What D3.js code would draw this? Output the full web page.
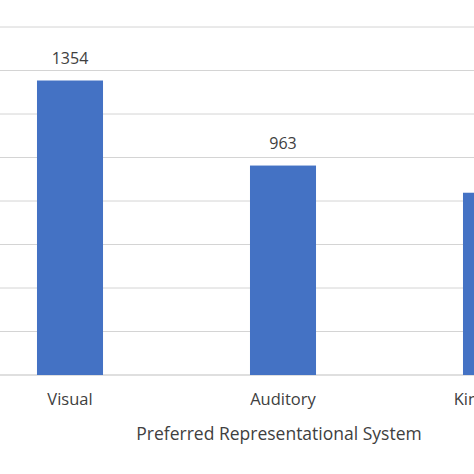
<!DOCTYPE html>
<html>
<head>
<meta charset="utf-8">
<script src="https://cdn.jsdelivr.net/npm/d3@7"></script>
<style>
  body { margin: 0; background: #fff; }
  text { font-family: "Open Sans", "Noto Sans", sans-serif; fill: #404040; }
</style>
</head>
<body>
<svg id="chart"></svg>
<script>
const width = 474, height = 474

const categories = ["Visual", "Auditory", "Kinesthetic"]
const counts = [1354, 963, 838]
const yTicks = [0, 200, 400, 600, 800, 1000, 1200, 1400, 1600]

const svg = d3.select("svg#chart")
    .attr("width", width)
    .attr("height", height)

const xScale = d3.scaleBand()
    .domain(categories)
    .range([-36.5, 602.5])
    .paddingInner(0.69)
    .paddingOuter(0.345)

const yScale = d3.scaleLinear()
    .domain([0, 1600])
    .range([375, 27])

// grid lines
svg.append("g")
    .selectAll("line")
    .data(yTicks)
    .enter()
    .append("line")
    .attr("x1", 0)
    .attr("x2", width)
    .attr("y1", d => yScale(d))
    .attr("y2", d => yScale(d))
    .attr("stroke", d => d === 0 ? "#bfbfbf" : "#d4d4d4")
    .attr("stroke-width", 1)

// bars
svg.append("g")
    .selectAll("rect")
    .data(categories)
    .enter()
    .append("rect")
    .attr("x", d => xScale(d))
    .attr("width", xScale.bandwidth())
    .attr("y", (d, i) => yScale(counts[i]))
    .attr("height", (d, i) => yScale(0) - yScale(counts[i]))
    .attr("fill", "#4472c4")

// value labels
svg.append("g")
    .selectAll("text")
    .data(categories)
    .enter()
    .append("text")
    .attr("x", d => xScale(d) + xScale.bandwidth() / 2)
    .attr("y", (d, i) => yScale(counts[i]) - 17)
    .attr("text-anchor", "middle")
    .attr("font-size", 16)
    .text((d, i) => counts[i])

// category labels
svg.append("g")
    .selectAll("text")
    .data(categories)
    .enter()
    .append("text")
    .attr("x", d => xScale(d) + xScale.bandwidth() / 2)
    .attr("y", 405)
    .attr("text-anchor", "middle")
    .attr("font-size", 16.5)
    .text(d => d)

// axis title
svg.append("text")
    .attr("x", 279)
    .attr("y", 440)
    .attr("text-anchor", "middle")
    .attr("font-size", 17.5)
    .text("Preferred Representational System")
</script>
</body>
</html>
